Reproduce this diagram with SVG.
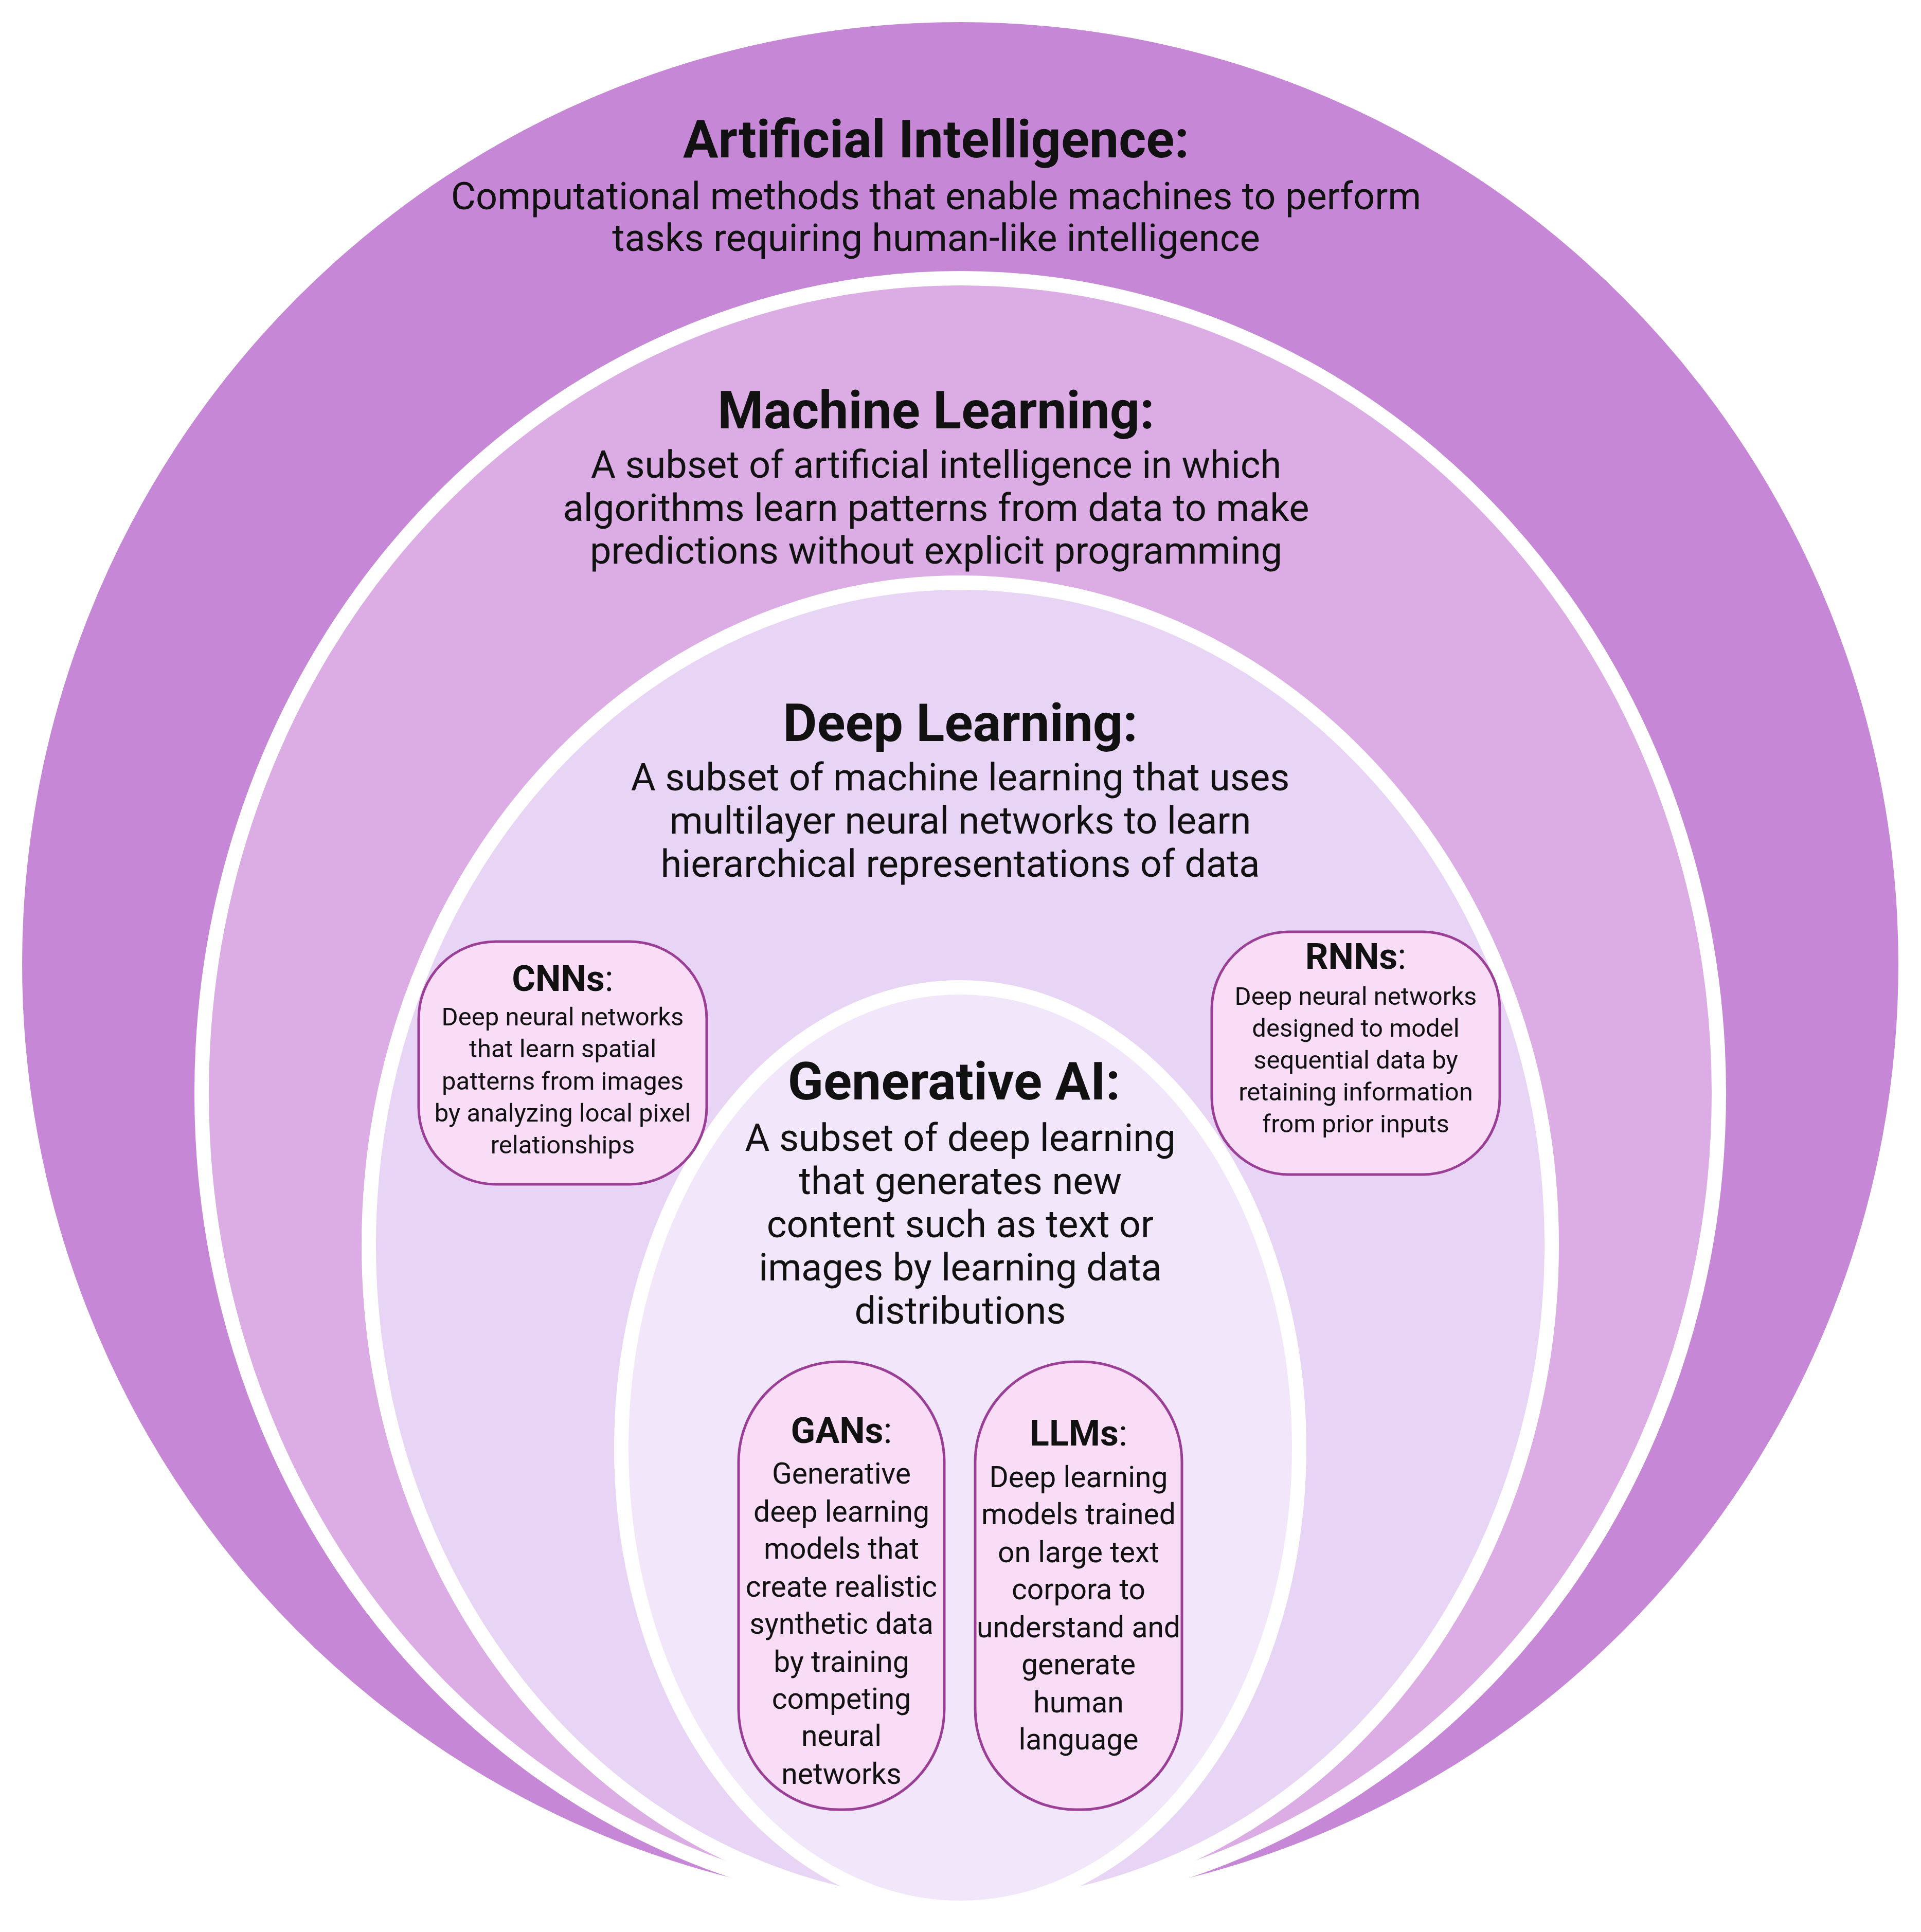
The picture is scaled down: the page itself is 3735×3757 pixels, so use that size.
<svg xmlns="http://www.w3.org/2000/svg" width="3735" height="3757" viewBox="0 0 3735 3757">
<style>
text{font-family:Roboto,"Liberation Sans",sans-serif;fill:#111;text-anchor:middle}
.t{font-weight:bold;font-size:102px}
.s{font-size:74px}
.bt{font-weight:bold;font-size:70px}
.b{font-size:49px}
.g{font-size:57px}
.box{fill:#F9DDF7;stroke:#9B3F96;stroke-width:5}
.ring{stroke:#fff;stroke-width:28}
</style>
<rect width="3735" height="3757" fill="#fff"/>
<g id="ai"><ellipse class="ring" cx="1867" cy="1875" rx="1838" ry="1846" fill="#C688D6" stroke="none"/>
<text class="t" x="1820" y="306">Artificial Intelligence:</text>
<text class="s" x="1820" y="407">Computational methods that enable machines to perform</text>
<text class="s" x="1820" y="488">tasks requiring human-like intelligence</text></g>
<g id="ml"><ellipse class="ring" cx="1867" cy="2126" rx="1475" ry="1585" fill="#DBADE4"/>
<text class="t" x="1820" y="833">Machine Learning:</text>
<text class="s" x="1820" y="929">A subset of artificial intelligence in which</text>
<text class="s" x="1820" y="1013">algorithms learn patterns from data to make</text>
<text class="s" x="1820" y="1096">predictions without explicit programming</text></g>
<g id="dl"><ellipse class="ring" cx="1867" cy="2421" rx="1150" ry="1288" fill="#E8D4F4"/>
<text class="t" x="1867" y="1441">Deep Learning:</text>
<text class="s" x="1867" y="1537">A subset of machine learning that uses</text>
<text class="s" x="1867" y="1621">multilayer neural networks to learn</text>
<text class="s" x="1867" y="1705">hierarchical representations of data</text></g>
<g id="gen"><ellipse class="ring" cx="1867" cy="2815" rx="659" ry="895" fill="#F1E6FA"/>
<text class="t" x="1855" y="2138">Generative AI:</text>
<text class="s" x="1867" y="2238">A subset of deep learning</text>
<text class="s" x="1867" y="2322">that generates new</text>
<text class="s" x="1867" y="2406">content such as text or</text>
<text class="s" x="1867" y="2490">images by learning data</text>
<text class="s" x="1867" y="2574">distributions</text></g>
<g id="cnns"><rect class="box" x="814" y="1831" width="560" height="472" rx="150"/>
<text class="bt" x="1094" y="1927">CNNs<tspan font-weight="normal">:</tspan></text>
<text class="b" x="1094" y="1994">Deep neural networks</text>
<text class="b" x="1094" y="2056">that learn spatial</text>
<text class="b" x="1094" y="2119">patterns from images</text>
<text class="b" x="1094" y="2181">by analyzing local pixel</text>
<text class="b" x="1094" y="2243">relationships</text></g>
<g id="rnns"><rect class="box" x="2356" y="1812" width="560" height="472" rx="150"/>
<text class="bt" x="2636" y="1884">RNNs<tspan font-weight="normal">:</tspan></text>
<text class="b" x="2636" y="1954">Deep neural networks</text>
<text class="b" x="2636" y="2016">designed to model</text>
<text class="b" x="2636" y="2078">sequential data by</text>
<text class="b" x="2636" y="2140">retaining information</text>
<text class="b" x="2636" y="2202">from prior inputs</text></g>
<g id="gans"><rect class="box" x="1436" y="2648" width="400" height="871" rx="195"/>
<text class="bt" x="1636" y="2806">GANs<tspan font-weight="normal">:</tspan></text>
<text class="g" x="1636" y="2885">Generative</text>
<text class="g" x="1636" y="2959">deep learning</text>
<text class="g" x="1636" y="3031">models that</text>
<text class="g" x="1636" y="3105">create realistic</text>
<text class="g" x="1636" y="3177">synthetic data</text>
<text class="g" x="1636" y="3251">by training</text>
<text class="g" x="1636" y="3323">competing</text>
<text class="g" x="1636" y="3395">neural</text>
<text class="g" x="1636" y="3469">networks</text></g>
<g id="llms"><rect class="box" x="1896" y="2648" width="402" height="871" rx="195"/>
<text class="bt" x="2097" y="2811">LLMs<tspan font-weight="normal">:</tspan></text>
<text class="g" x="2097" y="2892">Deep learning</text>
<text class="g" x="2097" y="2964">models trained</text>
<text class="g" x="2097" y="3038">on large text</text>
<text class="g" x="2097" y="3110">corpora to</text>
<text class="g" x="2097" y="3184">understand and</text>
<text class="g" x="2097" y="3256">generate</text>
<text class="g" x="2097" y="3330">human</text>
<text class="g" x="2097" y="3402">language</text></g>
<g id="connectors"/>
</svg>
